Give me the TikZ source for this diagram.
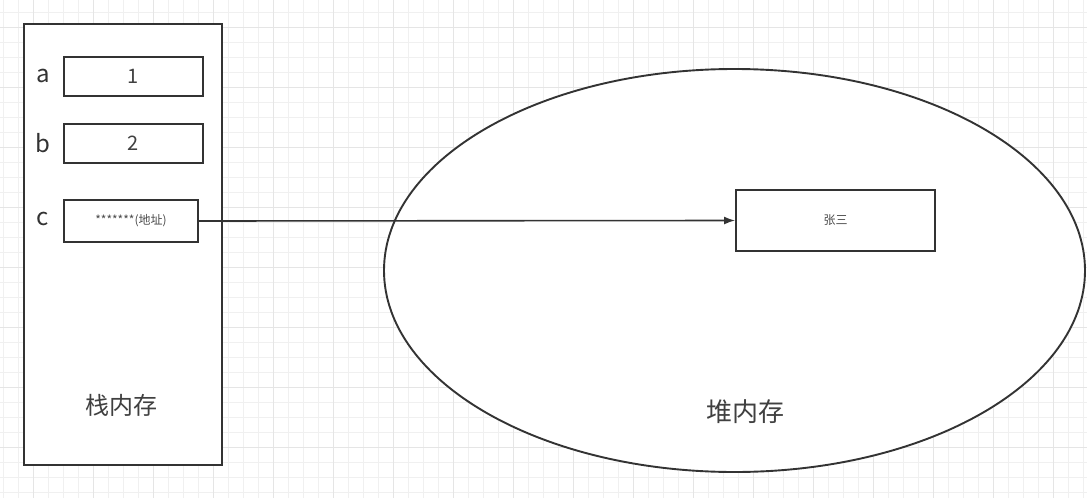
\documentclass[tikz,border=0pt]{standalone}
\usepackage{fontspec}
\usetikzlibrary{shapes.geometric,arrows.meta}
\setmainfont{Noto Sans CJK SC}
\begin{document}
\begin{tikzpicture}[x=1pt,y=-1pt,
  line/.style={draw=black!80,line width=1.9pt},
  cell/.style={line,rectangle,minimum height=39pt,minimum width=139pt,inner sep=0pt,font=\fontsize{20}{20}\selectfont,text=black!75},
  lbl/.style={font=\fontsize{24}{24}\selectfont,text=black!80,inner sep=0pt},
  big/.style={font=\fontsize{24}{24}\selectfont,text=black!75,inner sep=0pt},
  small/.style={font=\fontsize{12}{12}\selectfont,text=black!70}]
\useasboundingbox (0,0) rectangle (1087,498);
\fill[white] (0,0) rectangle (1087,498);
% grid
\foreach \x in {3,18,...,1087} \draw[black!6,line width=0.8pt] (\x,0) -- (\x,498);
\foreach \y in {12,27,...,498} \draw[black!6,line width=0.8pt] (0,\y) -- (1087,\y);
\foreach \x in {33,93,...,1087} \draw[black!10,line width=0.8pt] (\x,0) -- (\x,498);
\foreach \y in {27,87,...,498} \draw[black!10,line width=0.8pt] (0,\y) -- (1087,\y);
% stack
\node[line,fill=white,rectangle,minimum width=198pt,minimum height=441pt,inner sep=0pt] (stack) at (123,244.5) {};
\node[cell] (a) at (133.5,76.5) {1};
\node[cell] (b) at (133.5,143.5) {2};
\node[cell,minimum width=134pt,minimum height=42pt,font=\fontsize{12}{12}\selectfont,text=black!70] (c) at (131,221) {*******(地址)};
\node[lbl,anchor=center] (la) at (43,76) {a};
\node[lbl,anchor=center] (lb) at (43,143) {b};
\node[lbl,anchor=center] (lc) at (43,219) {c};
\node[big] (stacklbl) at (121,405) {栈内存};
% heap
\node[line,fill=white,ellipse,minimum width=701pt,minimum height=403pt,inner sep=0pt] (heap) at (734.5,270.5) {};
\node[line,rectangle,minimum width=199pt,minimum height=61pt,inner sep=0pt,small] (zs) at (835.5,220.5) {张三};
\node[big,font=\fontsize{26}{26}\selectfont] (heaplbl) at (745,412) {堆内存};
% arrow
\draw[line,line width=1.6pt,-{Latex[length=11pt,width=8pt]}] (c.east) -- (zs.west);
\end{tikzpicture}
\end{document}
